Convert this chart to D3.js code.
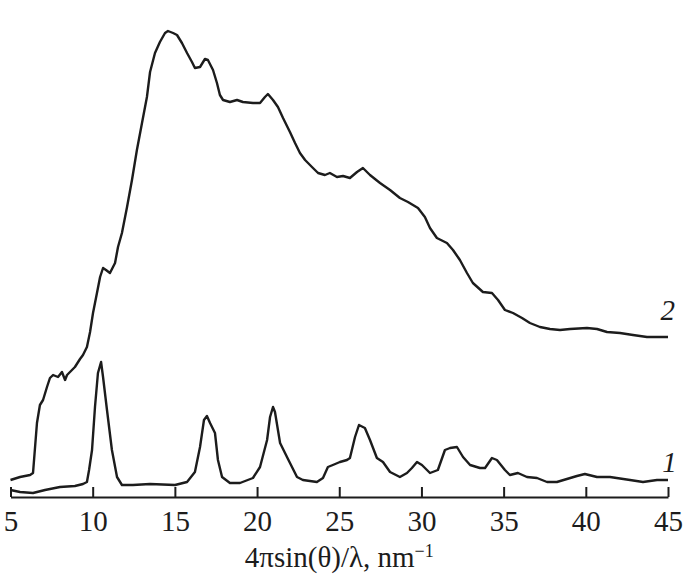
<!DOCTYPE html>
<html>
<head>
<meta charset="utf-8">
<script src="https://cdn.jsdelivr.net/npm/d3@7"></script>
<style>
  html, body { margin: 0; padding: 0; background: #fff; }
  svg { display: block; }
</style>
</head>
<body>
<svg id="chart" width="685" height="583"></svg>
<script>
// Scattering vector q = 4πsin(θ)/λ, nm^-1 (x) and intensity, arbitrary units (y)
const curve2Q = [5.00, 5.58, 6.19, 6.37, 6.61, 6.79, 6.98, 7.22, 7.40, 7.59, 7.89, 8.13, 8.32, 8.44, 8.62, 8.92, 9.23, 9.41, 9.65, 9.84, 10.02, 10.26, 10.45, 10.63, 10.81, 11.05, 11.36, 11.54, 11.78, 12.09, 12.39, 12.69, 13.00, 13.30, 13.49, 13.79, 14.09, 14.40, 14.58, 14.89, 15.13, 15.43, 15.74, 16.04, 16.22, 16.53, 16.83, 17.01, 17.32, 17.56, 17.74, 17.93, 18.35, 18.78, 19.14, 19.75, 20.18, 20.48, 20.66, 20.97, 21.27, 21.58, 22.00, 22.31, 22.61, 22.92, 23.34, 23.71, 24.13, 24.43, 24.86, 25.23, 25.65, 26.08, 26.44, 26.87, 27.48, 28.09, 28.69, 29.18, 29.79, 30.21, 30.52, 30.94, 31.55, 31.92, 32.34, 32.77, 33.13, 33.74, 34.29, 34.66, 35.08, 35.57, 36.12, 36.60, 37.21, 37.82, 38.43, 39.04, 40.07, 40.68, 41.29, 42.08, 42.87, 43.72, 44.33, 45.00];
const curve2I = [17, 20, 22, 24, 74, 92, 97, 110, 119, 122, 120, 125, 117, 122, 125, 130, 138, 142, 150, 165, 184, 204, 220, 229, 227, 224, 234, 250, 264, 290, 317, 347, 374, 400, 425, 444, 455, 464, 466, 464, 462, 454, 444, 435, 429, 430, 438, 437, 427, 414, 402, 397, 395, 397, 395, 394, 394, 400, 403, 397, 390, 379, 365, 354, 344, 337, 330, 324, 322, 324, 320, 321, 319, 325, 329, 322, 314, 307, 299, 295, 289, 280, 269, 259, 254, 247, 237, 224, 214, 205, 204, 197, 187, 184, 179, 174, 170, 168, 167, 168, 169, 168, 165, 164, 162, 160, 160, 160];

const curve1Q = [5.00, 5.58, 6.37, 7.10, 8.01, 8.92, 9.41, 9.65, 9.78, 9.96, 10.14, 10.32, 10.51, 10.63, 10.87, 11.17, 11.48, 11.78, 12.45, 13.49, 15.01, 15.74, 16.22, 16.53, 16.77, 16.95, 17.14, 17.44, 17.62, 17.87, 18.35, 18.96, 19.75, 20.18, 20.61, 20.79, 20.97, 21.09, 21.40, 21.82, 22.43, 22.79, 23.64, 24.01, 24.31, 24.61, 25.04, 25.47, 25.65, 25.96, 26.20, 26.56, 26.87, 27.29, 27.66, 28.09, 28.69, 29.12, 29.42, 29.73, 30.03, 30.52, 31.00, 31.43, 31.74, 32.16, 32.53, 32.96, 33.56, 33.87, 34.29, 34.59, 35.08, 35.38, 35.87, 36.42, 37.03, 37.64, 38.24, 38.85, 39.46, 39.94, 40.68, 41.47, 42.69, 43.48, 44.33, 45.00];
const curve1I = [7, 5, 4, 7, 10, 11, 13, 15, 27, 47, 90, 124, 135, 120, 87, 47, 20, 12, 12, 13, 12, 15, 25, 50, 77, 81, 74, 64, 37, 20, 14, 14, 19, 30, 57, 80, 90, 85, 54, 40, 20, 17, 15, 19, 30, 32, 35, 37, 39, 60, 72, 69, 57, 39, 35, 25, 20, 24, 29, 35, 32, 24, 27, 47, 49, 50, 40, 32, 29, 29, 39, 37, 27, 22, 24, 20, 19, 15, 15, 18, 21, 23, 20, 20, 17, 15, 17, 17];

const xTicks = [5, 10, 15, 20, 25, 30, 35, 40, 45];
const curveLabels = ["1", "2"];
const xTitle = "4πsin(θ)/λ, nm";
const xTitleSup = "−1";

const svg = d3.select("#chart");
const x = d3.scaleLinear().domain([5, 45]).range([10.5, 668]);
const y = d3.scaleLinear().domain([0, 497]).range([497, 0]);

const line = d3.line().x(d => x(d[0])).y(d => y(d[1]));
const c1 = curve1Q.map((q, i) => [q, curve1I[i]]);
const c2 = curve2Q.map((q, i) => [q, curve2I[i]]);

[c1, c2].forEach(c => {
  svg.append("path")
    .datum(c)
    .attr("d", line)
    .attr("fill", "none")
    .attr("stroke", "#1c1c1c")
    .attr("stroke-width", 2.4)
    .attr("stroke-linejoin", "round");
});

const axis = d3.axisBottom(x)
  .tickValues(xTicks)
  .tickFormat(d3.format("d"))
  .tickSizeInner(-10)
  .tickSizeOuter(0)
  .tickPadding(13);

const gx = svg.append("g").attr("transform", `translate(0,${y(0)})`).call(axis);
gx.select(".domain").attr("stroke", "#1c1c1c").attr("stroke-width", 2);
gx.selectAll(".tick line").attr("stroke", "#1c1c1c").attr("stroke-width", 2);
gx.selectAll(".tick text")
  .attr("fill", "#1c1c1c")
  .style("font-family", "'Liberation Serif', 'DejaVu Serif', serif")
  .style("font-size", "29px");

const title = svg.append("text")
  .attr("x", x(25))
  .attr("y", 567)
  .attr("text-anchor", "middle")
  .attr("fill", "#1c1c1c")
  .style("font-family", "'Liberation Serif', 'DejaVu Serif', serif")
  .style("font-size", "29px");
title.append("tspan").text(xTitle);
title.append("tspan").attr("dy", -10).style("font-size", "18px").text(xTitleSup);

// curve labels
svg.append("text")
  .attr("x", x(44.65)).attr("y", y(25))
  .attr("fill", "#1c1c1c")
  .style("font-family", "'Liberation Serif', 'DejaVu Serif', serif")
  .style("font-style", "italic")
  .style("font-size", "29px")
  .text(curveLabels[0]);
svg.append("text")
  .attr("x", x(44.55)).attr("y", y(177))
  .attr("fill", "#1c1c1c")
  .style("font-family", "'Liberation Serif', 'DejaVu Serif', serif")
  .style("font-style", "italic")
  .style("font-size", "29px")
  .text(curveLabels[1]);
</script>
</body>
</html>
